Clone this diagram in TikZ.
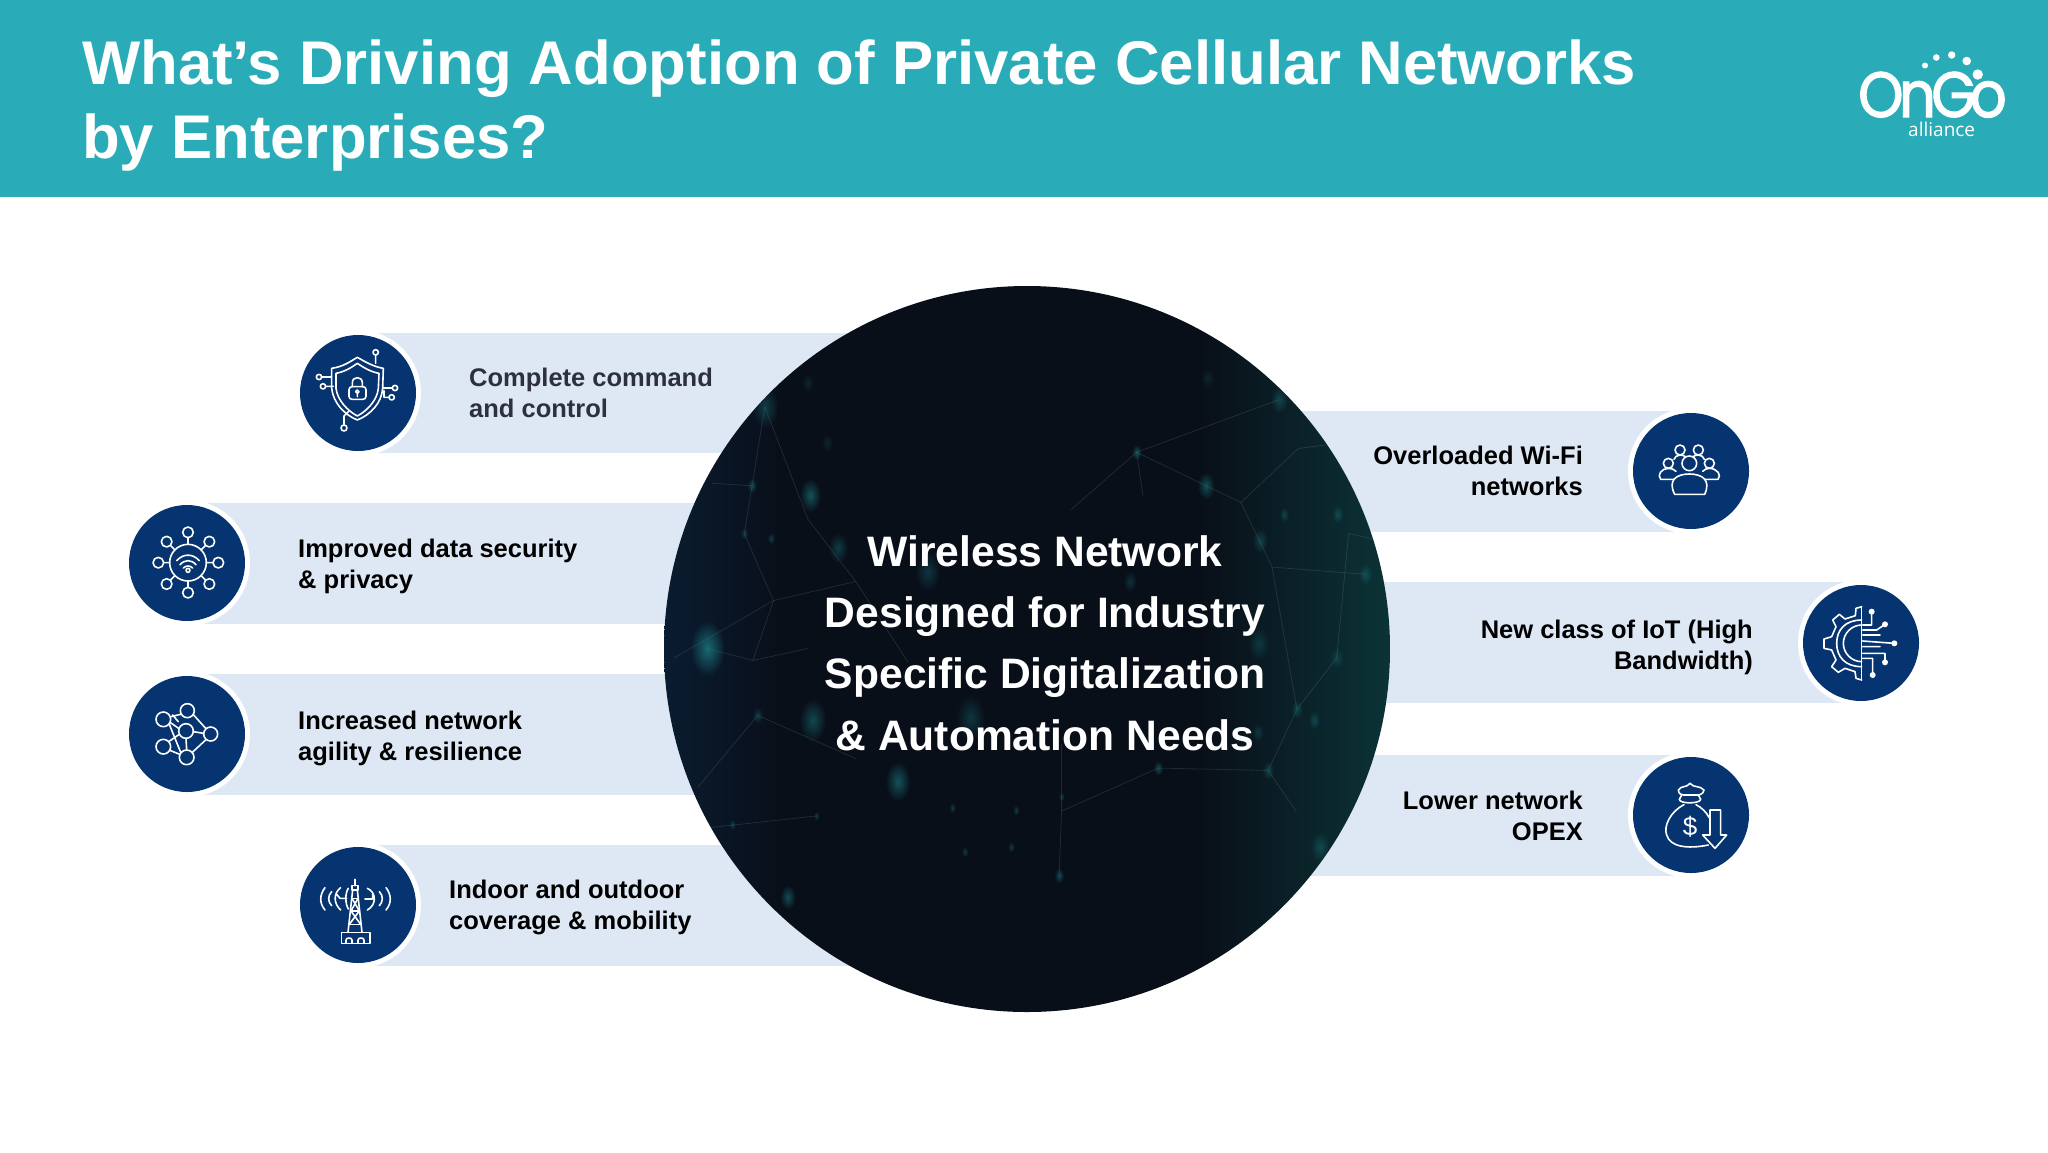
\documentclass[tikz,border=0pt]{standalone}
\usepackage{fontspec}
\setmainfont{Liberation Sans}
\newfontfamily\logofont[FakeBold=2]{Poppins}
\newfontfamily\allfont{Open Sans}
\usetikzlibrary{fadings}
\definecolor{teal}{HTML}{29ACB7}
\definecolor{navy}{HTML}{063470}
\definecolor{barc}{HTML}{DEE8F4}
\definecolor{darktxt}{HTML}{2E3040}
\definecolor{cleft}{HTML}{0A1C30}
\definecolor{cmid}{HTML}{090F19}
\definecolor{cright}{HTML}{0B3336}
\definecolor{glowc}{HTML}{1C7F86}
\pgfdeclarehorizontalshading{orbshade}{100bp}{color(0bp)=(cleft);color(25bp)=(cleft);color(33bp)=(cmid);color(62bp)=(cmid);color(75bp)=(cright);color(100bp)=(cright)}
\tikzfading[name=glowfade, inner color=transparent!0, outer color=transparent!100]
\tikzset{
  bar/.style={fill=barc},
  halo/.style={fill=white},
  disc/.style={fill=navy},
  ico/.style={draw=white,line width=1.6pt,line join=round,line cap=round},
  lab/.style={font=\fontsize{25.5}{31}\selectfont\bfseries,inner sep=0pt,text=black},
  netline/.style={draw=white,opacity=.10,line width=.8pt},
}
\newcommand{\iconback}[2]{\fill[halo] (#1,#2) circle[radius=63];\fill[disc] (#1,#2) circle[radius=58];}
\newcommand{\glw}[4]{\fill[glowc,path fading=glowfade,opacity=#4] (#1,#2) ellipse[x radius=#3,y radius=1.6*#3];}
\begin{document}
\begin{tikzpicture}[x=1pt,y=-1pt]
\useasboundingbox (0,0) rectangle (2048,1152);
\fill[white] (0,0) rectangle (2048,1152);
\fill[teal] (0,0) rectangle (2048,197);
\node[anchor=west,align=left,inner sep=0pt,text=white,font=\fontsize{61.7}{74}\selectfont\bfseries] (title) at (82,106) {What’s Driving Adoption of Private Cellular Networks\\by Enterprises?};
% logo
\node[anchor=base west,inner sep=0pt,text=white,font=\logofont\fontsize{64}{64}\selectfont] (logo) at (1858,117) {\scalebox{.9}[1]{O\kern-5pt n\kern-5pt G\kern-7pt o}};
\node[anchor=base west,inner sep=0pt,text=white,font=\allfont\fontsize{19}{19}\selectfont] (alliance) at (1908,136) {alliance};
\fill[white] (1925,65.5) circle[radius=3] (1936.3,57.5) circle[radius=3.3] (1951.7,55) circle[radius=3.7] (1966.7,61) circle[radius=4.3] (1977.7,74.5) circle[radius=5.2];
% bars
\fill[bar] (358,333) rectangle (1027,453);
\fill[bar] (187,503) rectangle (1027,624);
\fill[bar] (187,674) rectangle (1027,795);
\fill[bar] (358,845) rectangle (1027,966);
\fill[bar] (1027,411) rectangle (1691,532);
\fill[bar] (1027,582) rectangle (1861,703);
\fill[bar] (1027,755) rectangle (1691,876);
% icon discs
\iconback{358}{393}\iconback{187}{563}\iconback{187}{734}\iconback{358}{905}
\iconback{1691}{471}\iconback{1861}{643}\iconback{1691}{815}
% shield
\begin{scope}[shift={(280,320)},scale=1/3,ico]
\draw (155,145) .. controls (190,140) and (210,125) .. (232,112) .. controls (255,125) and (280,140) .. (310,145) -- (308,205) .. controls (305,250) and (270,285) .. (232,300) .. controls (195,285) and (160,250) .. (155,205) -- cycle;
\draw (168,160) .. controls (195,155) and (215,142) .. (232,130) .. controls (250,142) and (270,155) .. (297,160) -- (295,205) .. controls (292,240) and (262,272) .. (232,288) .. controls (202,272) and (172,240) .. (168,205) -- cycle;
\draw[rounded corners=3pt] (207,200) rectangle (258,238);
\draw (217,200) -- (217,188) .. controls (217,168) and (247,168) .. (247,188) -- (247,200);
\draw (232,215) circle[radius=5] (232,220) -- (232,230);
\draw (287,97) circle[radius=8] (287,105) -- (287,130);
\draw (117,171) circle[radius=8] (125,171) -- (155,171);
\draw (129,199) circle[radius=8] (137,199) -- (160,199);
\draw (345,204) circle[radius=8] (337,204) -- (308,204);
\draw (335,232) circle[radius=8] (327,232) -- (312,232) -- (312,212);
\draw (192,324) circle[radius=9] (192,315) -- (192,288) -- (205,275);
\end{scope}
% wifi hub
\begin{scope}[shift={(110,490)},scale=1/3,ico]
\draw (234,218) circle[radius=55];
\foreach \a/\b/\c/\d/\e/\f in {234/127/234/143/234/163,170/155/181/166/195/180,298/155/287/166/273/180,145/218/161/218/179/218,325/218/309/218/289/218,170/282/181/271/195/256,298/282/287/271/273/256,234/308/234/292/234/273}{
  \draw (\a,\b) circle[radius=16] (\c,\d) -- (\e,\f);
}
\draw (200,212) .. controls (220,190) and (248,190) .. (268,212);
\draw (210,224) .. controls (225,208) and (243,208) .. (258,224);
\draw (220,234) .. controls (228,226) and (240,226) .. (248,234);
\draw (234,241) circle[radius=6];
\end{scope}
% network
\begin{scope}[shift={(110,665)},scale=1/3,ico]
\draw (160,163) circle[radius=22] (232,137) circle[radius=21] (228,198) circle[radius=22] (302,207) circle[radius=21] (160,245) circle[radius=22] (230,277) circle[radius=22];
\draw (182,155) -- (212,148) (178,178) -- (212,262) (251,150) -- (287,190) (250,200) -- (281,205) (228,220) -- (230,255) (180,256) -- (209,268) (247,262) -- (288,224) (180,172) -- (206,190) (176,230) -- (208,208) (188,150) -- (205,170);
\end{scope}
% tower
\begin{scope}[shift={(280,835)},scale=1/3,ico]
\draw (225,133) -- (225,152) (216,165) -- (216,152) -- (234,152) -- (234,165) -- cycle;
\draw (218,165) -- (204,292) (232,165) -- (246,292);
\draw (216,190) -- (234,190) (213,228) -- (238,228) (208,268) -- (242,268);
\draw (216,190) -- (238,228) (234,190) -- (213,228) (213,228) -- (242,268) (238,228) -- (208,268);
\draw (185,292) rectangle (270,325);
\draw (198,325) -- (198,315) .. controls (198,307) and (216,307) .. (216,315) -- (216,325);
\draw (234,325) -- (234,315) .. controls (234,307) and (252,307) .. (252,315) -- (252,325);
\draw (135,158) .. controls (118,180) and (118,205) .. (135,225);
\draw (155,170) .. controls (143,182) and (143,200) .. (155,212);
\draw (182,158) .. controls (160,175) and (160,205) .. (182,225) (170,178) -- (180,190) -- (200,190);
\draw (205,160) .. controls (195,175) and (195,205) .. (205,222);
\draw (262,160) .. controls (290,172) and (290,210) .. (262,225) (278,178) -- (278,192) -- (255,192);
\draw (298,170) .. controls (310,182) and (310,200) .. (298,212);
\draw (318,158) .. controls (335,180) and (335,205) .. (318,225);
\end{scope}
% people
\begin{scope}[shift={(1610,400)},scale=1/3,ico]
\draw (210,150) circle[radius=15] (265,150) circle[radius=15] (175,190) circle[radius=15] (298,190) circle[radius=15] (238,190) circle[radius=22];
\draw (194,283) .. controls (172,240) and (200,222) .. (238,222) .. controls (276,222) and (304,240) .. (284,283) -- cycle;
\draw (192,238) -- (152,238) .. controls (140,225) and (155,205) .. (175,205) .. controls (185,205) and (192,208) .. (198,214);
\draw (284,238) -- (324,238) .. controls (336,225) and (321,205) .. (298,205) .. controls (290,205) and (284,208) .. (278,214);
\draw (192,178) .. controls (195,170) and (200,166) .. (210,165) .. controls (217,165) and (222,167) .. (226,170);
\draw (283,178) .. controls (280,170) and (275,166) .. (265,165) .. controls (258,165) and (253,167) .. (249,170);
\end{scope}
% gear chip
\begin{scope}[shift={(1780,565)},scale=1/3,ico]
\draw (245,125) -- (228,130) -- (226,152) -- (195,162) -- (178,148) -- (158,165) -- (168,185) -- (155,215) -- (132,222) -- (132,250) -- (155,255) -- (168,285) -- (155,305) -- (175,322) -- (195,310) -- (225,320) -- (228,340) -- (245,345);
\draw (245,165) .. controls (195,165) and (170,195) .. (170,235) .. controls (170,275) and (195,305) .. (245,305);
\draw (245,180) .. controls (215,180) and (190,205) .. (190,235) .. controls (190,265) and (215,290) .. (245,290);
\draw (245,125) -- (245,345);
\draw (248,180) -- (275,180) -- (275,140) (248,195) -- (290,195) -- (315,178) (248,210) -- (300,210) (248,228) -- (343,235) (248,245) -- (300,245) (248,265) -- (315,265) -- (315,292) (248,280) -- (278,280) -- (278,330);
\fill[white] (275,140) circle[radius=9] (315,178) circle[radius=9] (343,235) circle[radius=9] (315,292) circle[radius=9] (278,330) circle[radius=9];
\end{scope}
% money bag
\begin{scope}[shift={(1610,740)},scale=1/3,ico]
\draw (205,150) .. controls (215,135) and (228,145) .. (240,130) .. controls (252,145) and (268,135) .. (282,150) .. controls (280,160) and (272,165) .. (262,165) -- (220,165) .. controls (212,165) and (206,160) .. (205,150);
\draw (215,165) -- (208,178) .. controls (208,192) and (270,192) .. (272,178) -- (265,165);
\draw (222,194) .. controls (180,215) and (160,260) .. (170,285) .. controls (180,320) and (230,328) .. (295,315);
\draw (258,194) .. controls (275,203) and (288,215) .. (297,232);
\draw (300,210) -- (332,210) -- (332,285) -- (350,285) -- (315,325) -- (278,285) -- (300,285) -- cycle;
\end{scope}
\node[inner sep=0pt,text=white,font=\fontsize{26}{26}\selectfont] (dollar) at (1690,827) {\$};
% central disc
\begin{scope}
\path[clip] (1027,649) circle[radius=363];
\shade[shading=orbshade] (664,286) rectangle (1390,1012);
\begin{scope}[shift={(650,280)},scale=0.4785]
\foreach \a/\b/\c/\d in {1017/360/1315/250,1017/360/1235/465,1235/465/1355/352,1355/352/1450/340,1017/360/1030/450,1235/465/1300/600,1300/600/1495/615,1300/600/1352/897,1352/897/1435/790,1435/790/1460/530,1460/530/1530/545,1352/897/1292/1025,1062/1020/1292/1025,1292/1025/1350/1110,1062/1020/860/1110,860/1110/855/1245,860/970/860/1110,240/265/330/500,330/500/430/630,258/670/430/630,258/670/215/795,258/670/50/790,225/910/100/1060,225/910/430/1000,348/1120/120/1145,120/770/215/795,215/795/330/770,130/425/213/430,430/630/540/800,1017/360/880/480,258/670/197/530,197/530/240/265}{
  \draw[netline] (\a,\b) -- (\c,\d);
}
\foreach \a/\b/\c/\o in {240/265/28/.4,335/450/22/.6,213/430/10/.5,393/560/20/.4,120/770/36/.8,340/920/28/.5,225/910/11/.4,670/915/30/.35,518/1048/26/.6,580/610/26/.35,288/1290/16/.55,1162/430/18/.55,1017/360/10/.6,1315/250/18/.4,1275/545/16/.4,1325/490/10/.4,1437/490/12/.4,1495/615/14/.4,1435/790/14/.3,1352/897/12/.4,1388/920/12/.4,1272/760/22/.3,1270/945/12/.3,1292/1025/12/.4,1062/1020/10/.5,1400/1185/20/.4,855/1245/10/.5,1165/205/14/.2,330/215/12/.2,370/340/12/.2,1003/630/14/.3,197/530/8/.4,253/540/8/.4,860/1080/6/.4,632/1103/7/.4,765/1108/7/.4,658/1195/7/.4,755/1185/7/.4,172/1138/7/.4,348/1120/6/.4}{
  \glw{\a}{\b}{\c}{\o}
}
\end{scope}
\end{scope}
\node[align=center,inner sep=0pt,text=white,font=\fontsize{42.6}{61.4}\selectfont\bfseries] (hub) at (1045,643) {Wireless Network\\Designed for Industry\\Specific Digitalization\\\& Automation Needs};
% labels
\node[lab,anchor=west,align=left,text=darktxt] (l1) at (469,393) {Complete command\\and control};
\node[lab,anchor=west,align=left] (l2) at (298,566.5) {Improved data security\\\& privacy};
\node[lab,anchor=west,align=left] (l3) at (298,738) {Increased network\\agility \& resilience};
\node[lab,anchor=west,align=left] (l4) at (449,907.5) {Indoor and outdoor\\coverage \& mobility};
\node[lab,anchor=east,align=right] (r1) at (1583,471) {Overloaded Wi-Fi\\networks};
\node[lab,anchor=east,align=right] (r2) at (1753,647) {New class of IoT (High\\Bandwidth)};
\node[lab,anchor=east,align=right] (r3) at (1583,816) {Lower network\\OPEX};
\end{tikzpicture}
\end{document}
